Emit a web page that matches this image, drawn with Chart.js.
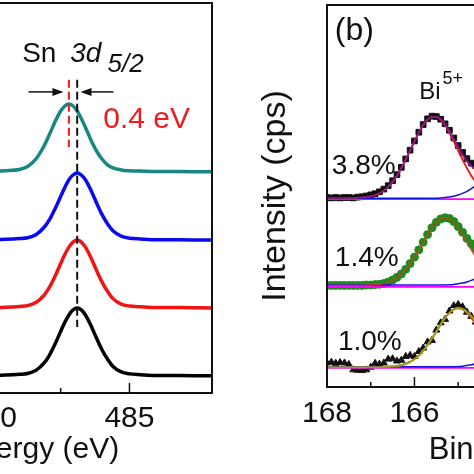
<!DOCTYPE html>
<html>
<head>
<meta charset="utf-8">
<script src="https://cdn.jsdelivr.net/npm/chart.js@4.4.1/dist/chart.umd.min.js"></script>
<style>
  html, body { margin: 0; padding: 0; background: #fff; overflow: hidden; }
  body { width: 474px; height: 474px; position: relative; }
  #snChart { position: absolute; left: -262px; top: 0; }
  #biChart { position: absolute; left: 240px; top: 0; }
</style>
</head>
<body>
<canvas id="snChart" width="490" height="474"></canvas>
<canvas id="biChart" width="580" height="474"></canvas>
<script>
const FONT = "'Liberation Sans', Arial, sans-serif";

// panel (a): Sn 3d5/2 spectra, stacked (arbitrary intensity units)
const snEnergy = [491.0, 490.0, 489.5, 489.0, 488.7, 488.4, 488.1, 487.9, 487.7, 487.5,
  487.35, 487.2, 487.05, 486.9, 486.75, 486.6, 486.4, 486.2, 486.0, 485.8,
  485.6, 485.3, 485.0, 484.6, 484.0, 483.2, 482.0];
const snTeal = [56.8, 56.9, 57.0, 57.3, 58.1, 60.0, 63.4, 66.4, 69.6, 72.3,
  73.6, 74.1, 73.6, 72.3, 70.4, 68.1, 64.9, 62.1, 60.0, 58.5,
  57.7, 57.2, 57.0, 56.9, 56.8, 56.8, 56.7];
const snBlue = [39.3, 39.3, 39.4, 39.6, 39.8, 40.6, 42.5, 44.5, 47.3, 50.4,
  52.7, 54.7, 55.9, 56.4, 55.9, 54.7, 52.0, 48.8, 45.8, 43.4,
  41.6, 40.2, 39.7, 39.5, 39.3, 39.3, 39.2];
const snRed = [21.9, 21.9, 22.0, 22.2, 22.4, 23.2, 25.1, 27.2, 30.0, 33.2,
  35.5, 37.4, 38.7, 39.2, 38.7, 37.4, 34.7, 31.5, 28.5, 26.1,
  24.2, 22.8, 22.3, 22.1, 21.9, 21.9, 21.8];
const snBlack = [4.5, 4.5, 4.6, 4.8, 5.0, 5.8, 7.7, 9.8, 12.6, 15.8,
  18.1, 20.0, 21.3, 21.8, 21.3, 20.0, 17.3, 14.1, 11.1, 8.7,
  6.8, 5.4, 4.9, 4.7, 4.5, 4.5, 4.4];
const snPeakShifted = 487.2;   // red dashed line
const snPeakRef = 486.9;       // black dashed line
const snDashTop = 80.3;
const snRedDashEnd = 63.1;
const snBlackDashEnd = 16.9;

// panel (b): Bi 4f region
const biEnergy = [168.0, 167.9, 167.8, 167.7, 167.6, 167.5, 167.4, 167.3, 167.2, 167.1,
  167.0, 166.9, 166.8, 166.7, 166.6, 166.5, 166.4, 166.3, 166.2, 166.1,
  166.0, 165.9, 165.8, 165.7, 165.6, 165.5, 165.4, 165.3, 165.2, 165.1,
  165.0, 164.9, 164.8, 164.7, 164.6, 164.5, 164.4];
// 3.8 %
const bi38Data = [49.6, 49.5, 49.6, 49.5, 49.6, 49.6, 49.5, 49.7, 49.8, 50.0,
  50.3, 50.6, 51.1, 51.8, 52.7, 54.0, 55.6, 57.5, 59.7, 62.0,
  64.4, 66.7, 68.7, 70.2, 70.9, 70.8, 70.1, 68.9, 67.2, 65.2,
  63.2, 61.4, 59.8, 58.6, 57.9, 57.6, 57.8];
const bi38Sum = [49.4, 49.4, 49.4, 49.4, 49.4, 49.4, 49.4, 49.5, 49.6, 49.7,
  49.9, 50.2, 50.7, 51.4, 52.4, 53.7, 55.3, 57.3, 59.5, 61.9,
  64.3, 66.6, 68.6, 70.0, 70.7, 70.7, 70.1, 68.8, 66.95, 64.85,
  62.75, 60.8, 59.1, 57.8, 57.0, 56.7, 56.9];
const bi38Bi5 = [49.4, 49.4, 49.4, 49.4, 49.4, 49.4, 49.4, 49.5, 49.6, 49.7,
  49.9, 50.2, 50.7, 51.4, 52.4, 53.7, 55.3, 57.3, 59.5, 61.9,
  64.3, 66.6, 68.6, 70.0, 70.7, 70.7, 70.0, 68.6, 66.6, 64.3,
  61.9, 59.5, 57.3, 55.3, 53.7, 52.4, 51.4];
const bi38Bi3 = [49.4, 49.4, 49.4, 49.4, 49.4, 49.4, 49.4, 49.4, 49.4, 49.4,
  49.4, 49.4, 49.4, 49.4, 49.4, 49.4, 49.4, 49.4, 49.4, 49.4,
  49.4, 49.4, 49.4, 49.4, 49.4, 49.4, 49.5, 49.6, 49.75, 49.95,
  50.25, 50.7, 51.2, 51.9, 52.7, 53.7, 54.9];
// 1.4 %
const bi14Data = [26.6, 26.6, 26.6, 26.6, 26.6, 26.6, 26.6, 26.6, 26.6, 26.7,
  26.7, 26.8, 26.9, 27.1, 27.5, 28.0, 28.7, 29.6, 30.8, 32.3,
  34.0, 35.9, 37.9, 39.9, 41.7, 43.1, 44.0, 44.3, 44.1, 43.3,
  42.0, 40.5, 38.9, 37.5, 36.3, 35.5, 35.0];
const bi14Bi5 = [26.6, 26.6, 26.6, 26.6, 26.6, 26.6, 26.6, 26.6, 26.6, 26.7,
  26.7, 26.8, 26.9, 27.1, 27.5, 28.0, 28.7, 29.6, 30.8, 32.3,
  34.0, 35.9, 37.9, 39.9, 41.7, 43.1, 44.0, 44.3, 44.0, 43.1,
  41.7, 39.9, 37.9, 35.9, 34.0, 32.3, 30.8];
const bi14Bi3 = [26.7, 26.7, 26.7, 26.7, 26.7, 26.7, 26.7, 26.7, 26.7, 26.7,
  26.7, 26.7, 26.7, 26.7, 26.7, 26.7, 26.7, 26.7, 26.7, 26.7,
  26.7, 26.7, 26.7, 26.7, 26.7, 26.7, 26.7, 26.7, 26.75, 26.85,
  27.0, 27.2, 27.5, 27.9, 28.4, 29.0, 29.7];
// 1.0 %
const bi10Data = [6.3, 6.5, 6.2, 6.4, 6.3, 5.9, 4.5, 4.4, 4.3, 4.5,
  5.2, 6.2, 6.0, 6.3, 7.3, 7.4, 6.8, 7.0, 8.0, 8.3,
  8.0, 9.3, 10.2, 11.8, 12.2, 14.9, 16.8, 17.7, 19.9, 21.3,
  21.6, 21.0, 19.6, 18.5, 17.0, 15.2, 13.5];
const bi10Sum = [5.2, 5.2, 5.2, 5.2, 5.2, 5.2, 5.2, 5.2, 5.2, 5.2,
  5.2, 5.2, 5.2, 5.25, 5.3, 5.4, 5.5, 5.7, 6.1, 6.6,
  7.3, 8.2, 9.5, 11.0, 12.7, 14.5, 16.4, 18.1, 19.4, 20.3,
  20.65, 20.45, 19.7, 18.6, 17.2, 15.7, 14.4];
const bi10Bi5 = [5.2, 5.2, 5.2, 5.2, 5.2, 5.2, 5.2, 5.2, 5.2, 5.2,
  5.2, 5.2, 5.2, 5.25, 5.3, 5.4, 5.5, 5.7, 6.1, 6.6,
  7.3, 8.2, 9.5, 11.0, 12.7, 14.5, 16.4, 18.1, 19.4, 20.3,
  20.6, 20.3, 19.4, 18.1, 16.4, 14.5, 12.7];
const bi10Bi3 = [5.3, 5.3, 5.3, 5.3, 5.3, 5.3, 5.3, 5.3, 5.3, 5.3,
  5.3, 5.3, 5.3, 5.3, 5.3, 5.3, 5.3, 5.3, 5.3, 5.3,
  5.3, 5.3, 5.3, 5.3, 5.3, 5.3, 5.3, 5.3, 5.3, 5.3,
  5.35, 5.45, 5.6, 5.8, 6.1, 6.5, 7.0];
const biBackground = [49.2, 26.2, 5.0];
const biRange = [168, 157];

function pts(xs, ys) {
    return xs.map((x, i) => ({ x, y: ys[i] }));
}

function curve(data, color, width, order) {
    return {
        data, borderColor: color, borderWidth: width, pointRadius: 0,
        fill: false, cubicInterpolationMode: 'monotone', order
    };
}

function markers(data, color, style, order) {
    return {
        data, showLine: false, pointStyle: style, pointRadius: 4,
        pointBackgroundColor: color, pointBorderColor: color, pointBorderWidth: 1, order
    };
}

// frame around the plot and inward ticks on the energy axis
const framePlugin = {
    id: 'frame',
    afterDatasetsDraw(chart, args, opts) {
        const { ctx, chartArea: a } = chart;
        const x = chart.scales.x;
        ctx.save();
        ctx.strokeStyle = '#111';
        ctx.lineWidth = 2;
        ctx.strokeRect(a.left, a.top, a.right - a.left, a.bottom - a.top);
        ctx.lineWidth = 1.5;
        x.ticks.forEach(t => {
            const onStep = Math.abs(t.value / opts.minor - Math.round(t.value / opts.minor)) < 1e-6;
            if (!onStep) return;
            const major = Math.abs(t.value / opts.major - Math.round(t.value / opts.major)) < 1e-6;
            const px = x.getPixelForValue(t.value);
            ctx.beginPath();
            ctx.moveTo(px, a.bottom);
            ctx.lineTo(px, a.bottom - (major ? 10 : 5));
            ctx.stroke();
        });
        ctx.restore();
    }
};

// free text and arrows, positioned in data coordinates
const notePlugin = {
    id: 'notes',
    afterDatasetsDraw(chart, args, opts) {
        const { ctx } = chart;
        const x = chart.scales.x, y = chart.scales.y;
        ctx.save();
        ctx.textBaseline = 'alphabetic';
        ctx.textAlign = 'left';
        (opts.texts || []).forEach(t => {
            ctx.font = (t.italic ? 'italic ' : '') + t.size + 'px ' + FONT;
            ctx.fillStyle = t.color || '#111';
            ctx.fillText(t.text, x.getPixelForValue(t.x), y.getPixelForValue(t.y));
        });
        (opts.arrows || []).forEach(ar => {
            const x0 = x.getPixelForValue(ar.from), x1 = x.getPixelForValue(ar.to);
            const py = y.getPixelForValue(ar.y);
            const dir = Math.sign(x1 - x0);
            ctx.strokeStyle = '#111';
            ctx.fillStyle = '#111';
            ctx.lineWidth = 1.5;
            ctx.beginPath();
            ctx.moveTo(x0, py);
            ctx.lineTo(x1 - dir * 8, py);
            ctx.stroke();
            ctx.beginPath();
            ctx.moveTo(x1, py);
            ctx.lineTo(x1 - dir * 11, py - 4);
            ctx.lineTo(x1 - dir * 11, py + 4);
            ctx.closePath();
            ctx.fill();
        });
        ctx.restore();
    }
};

function energyAxis(min, max, step, labelStep, tickPad, titlePadBottom, titleSize, height) {
    return {
        type: 'linear', reverse: true, min, max,
        grid: { display: false, drawTicks: false },
        border: { display: false },
        ticks: {
            stepSize: step, autoSkip: false, maxRotation: 0, padding: tickPad, color: '#111',
            font: { family: FONT, size: 30, lineHeight: 1 },
            callback: v => (Math.abs(v % labelStep) < 1e-6 ? v : '')
        },
        title: {
            display: true, text: 'Binding Energy (eV)', color: '#111',
            font: { family: FONT, size: titleSize, lineHeight: 1 },
            padding: { top: 0, bottom: titlePadBottom }
        },
        afterFit: s => { s.height = height; }
    };
}

function initializeSnChart() {
    const ctx = document.getElementById('snChart');
    const datasets = [
        { data: [{ x: snPeakShifted, y: snDashTop }, { x: snPeakShifted, y: snRedDashEnd }],
          borderColor: '#ee1c1c', borderWidth: 2, borderDash: [8, 4], pointRadius: 0, order: 0 },
        { data: [{ x: snPeakRef, y: snDashTop }, { x: snPeakRef, y: snBlackDashEnd }],
          borderColor: '#111', borderWidth: 2, borderDash: [8, 4], pointRadius: 0, order: 0 },
        curve(pts(snEnergy, snTeal), '#17877f', 3.5, 1),
        curve(pts(snEnergy, snBlue), '#0a0af0', 3.5, 1),
        curve(pts(snEnergy, snRed), '#f01414', 3.5, 1),
        curve(pts(snEnergy, snBlack), '#000', 3.5, 1)
    ];
    new Chart(ctx, {
        type: 'line',
        data: { datasets },
        options: {
            responsive: false, animation: false,
            layout: { padding: { left: 20, right: 16, top: 3, bottom: 0 } },
            scales: {
                x: energyAxis(482, 498.5, 2.5, 5, 11, 9, 30, 81),
                y: { display: false, min: 0, max: 100 }
            },
            plugins: {
                legend: { display: false }, tooltip: { enabled: false },
                frame: { minor: 2.5, major: 5 },
                notes: {
                    texts: [
                        { text: 'Sn', x: 488.9, y: 84.9, size: 28 },
                        { text: '3d', x: 487.15, y: 84.9, size: 28, italic: true },
                        { text: '5/2', x: 485.8, y: 82.3, size: 26, italic: true },
                        { text: '0.4 eV', x: 485.95, y: 67.9, size: 30, color: '#ee1c1c' }
                    ],
                    arrows: [
                        { from: 488.67, to: 487.4, y: 77.2 },
                        { from: 485.58, to: 486.78, y: 77.2 }
                    ]
                }
            }
        },
        plugins: [framePlugin, notePlugin]
    });
}

function initializeBiChart() {
    const ctx = document.getElementById('biChart');
    const bg = biBackground.map(v => ({
        data: [{ x: biRange[0], y: v }, { x: biRange[1], y: v }],
        borderColor: '#ff00ff', borderWidth: 1.8, pointRadius: 0, order: 2
    }));
    const datasets = [
        ...bg,
        curve(pts(biEnergy, bi38Bi3), '#1010ee', 1.5, 1),
        curve(pts(biEnergy, bi38Bi5), '#ee1010', 1.8, 1),
        curve(pts(biEnergy, bi38Sum), '#8a1a8a', 1.8, 0),
        markers(pts(biEnergy, bi38Data), '#111', 'rect', 3),
        curve(pts(biEnergy, bi14Bi3), '#1010ee', 1.5, 1),
        curve(pts(biEnergy, bi14Bi5), '#c8401a', 1.3, 0),
        markers(pts(biEnergy, bi14Data), '#1e8c1e', 'circle', 3),
        curve(pts(biEnergy, bi10Bi3), '#1010ee', 1.5, 1),
        curve(pts(biEnergy, bi10Bi5), '#e04a10', 1.8, 1),
        curve(pts(biEnergy, bi10Sum), '#9c9a1c', 2, 0),
        markers(pts(biEnergy, bi10Data), '#111', 'triangle', 3)
    ];
    new Chart(ctx, {
        type: 'line',
        data: { datasets },
        options: {
            responsive: false, animation: false,
            layout: { padding: { left: 0, right: 9, top: 3, bottom: 0 } },
            scales: {
                x: energyAxis(biRange[1], biRange[0], 1, 2, 12, 8.5, 31, 87),
                y: {
                    min: 0, max: 100,
                    grid: { display: false, drawTicks: false },
                    border: { display: false },
                    ticks: { display: false },
                    title: {
                        display: true, text: 'Intensity (cps)', color: '#111',
                        font: { family: FONT, size: 34, lineHeight: 1 },
                        padding: { top: 19, bottom: 0 }
                    },
                    afterFit: s => { s.width = 87; }
                }
            },
            plugins: {
                legend: { display: false }, tooltip: { enabled: false },
                frame: { minor: 1, major: 2 },
                notes: {
                    texts: [
                        { text: '(b)', x: 167.82, y: 90.9, size: 32 },
                        { text: 'Bi', x: 165.89, y: 75.3, size: 24 },
                        { text: '5+', x: 165.36, y: 79.2, size: 18 },
                        { text: '3.8%', x: 167.89, y: 55.7, size: 28 },
                        { text: '1.4%', x: 167.82, y: 31.8, size: 28 },
                        { text: '1.0%', x: 167.75, y: 9.6, size: 28 }
                    ]
                }
            }
        },
        plugins: [framePlugin, notePlugin]
    });
}

initializeSnChart();
initializeBiChart();
</script>
</body>
</html>
